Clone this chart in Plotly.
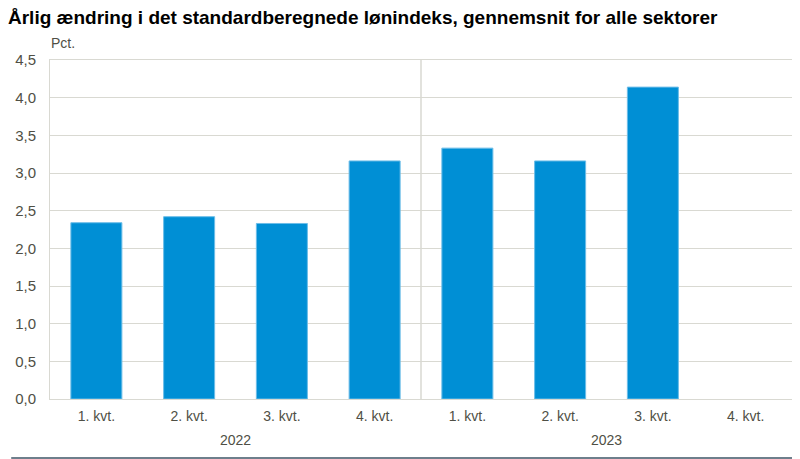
import plotly.graph_objects as go

years = ["2022"] * 4 + ["2023"] * 4
quarters = ["1. kvt.", "2. kvt.", "3. kvt.", "4. kvt."] * 2
values = [2.34, 2.42, 2.33, 3.16, 3.33, 3.16, 4.14, None]
y_ticks = [0, 0.5, 1.0, 1.5, 2.0, 2.5, 3.0, 3.5, 4.0, 4.5]

title_text = "Årlig ændring i det standardberegnede lønindeks, gennemsnit for alle sektorer"
unit_text = "Pct."

GRID = "#d9d9d2"
TXT = "#4f4f45"
FONT = "Liberation Sans, Arial, sans-serif"

# the page body has an 8px margin: size the figure so the plot lands where the reference has it
W, H = 792, 451
ML, MR, MT, MB = 39, 7, 52, 60
PW, PH = W - ML - MR, H - MT - MB

idx = list(range(len(quarters)))

fig = go.Figure(
    go.Bar(
        x=idx,
        y=values,
        marker=dict(color="#008fd5", line=dict(color="#6cbde8", width=1)),
        hoverinfo="y",
    )
)

fig.update_layout(
    width=W,
    height=H,
    paper_bgcolor="white",
    plot_bgcolor="white",
    margin=dict(l=ML, r=MR, t=MT, b=MB),
    bargap=0.45,
    separators=",.",
    showlegend=False,
    title=dict(
        text=f"<b>{title_text}</b>",
        x=0,
        xanchor="left",
        xref="container",
        y=1 - 9 / H,
        yanchor="middle",
        font=dict(family=FONT, size=19, color="#000000"),
    ),
    font=dict(family=FONT, size=14, color=TXT),
)

fig.update_xaxes(
    range=[-0.5, len(idx) - 0.5],
    tickvals=idx,
    ticktext=quarters,
    showgrid=False,
    showline=True,
    linecolor=GRID,
    linewidth=1,
    mirror=True,
    zeroline=False,
    ticks="",
    ticklabelstandoff=4,
    tickfont=dict(family=FONT, size=14, color=TXT),
)
fig.update_yaxes(
    range=[0, 4.5],
    tickvals=y_ticks,
    tickformat=".1f",
    showgrid=True,
    gridcolor=GRID,
    gridwidth=1,
    showline=True,
    linecolor=GRID,
    mirror=True,
    zeroline=False,
    ticks="",
    ticklabelstandoff=10,
    tickfont=dict(family=FONT, size=15, color=TXT),
)

# year group labels and divider between years
groups = []
for i, yv in enumerate(years):
    if not groups or groups[-1][0] != yv:
        groups.append([yv, i, i])
    else:
        groups[-1][2] = i
for gi, (yv, a, b) in enumerate(groups):
    fig.add_annotation(text=yv, xref="x", yref="paper", x=(a + b) / 2, y=0,
                       yanchor="middle", yshift=-41, showarrow=False,
                       font=dict(family=FONT, size=14, color=TXT))
    if gi > 0:
        fig.add_shape(type="line", xref="x", yref="paper", x0=a - 0.5, x1=a - 0.5,
                      y0=0, y1=1, line=dict(color=GRID, width=1.5), layer="below")

# bottom border of the figure
fig.add_shape(type="line", xref="paper", yref="paper", x0=-ML / PW, x1=(W - ML) / PW,
              y0=-(MB - 1) / PH, y1=-(MB - 1) / PH, line=dict(color="#6e7f8c", width=2))

fig.add_annotation(text=unit_text, xref="paper", yref="paper", x=0, y=1,
                   xanchor="left", yanchor="bottom", yshift=7, xshift=-1, showarrow=False,
                   font=dict(family=FONT, size=14, color=TXT))

fig.write_html("out.html")
